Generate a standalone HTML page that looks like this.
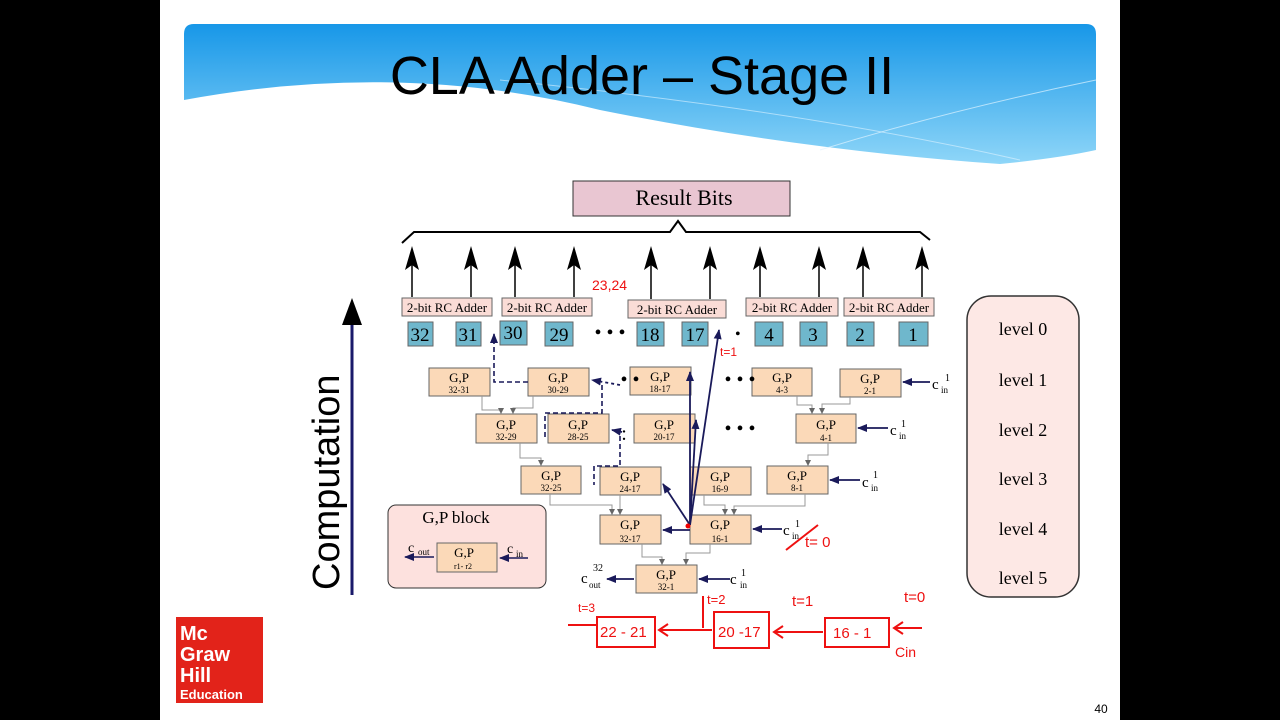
<!DOCTYPE html>
<html><head><meta charset="utf-8"><style>
body{margin:0;background:#000;width:1280px;height:720px;overflow:hidden}
svg{display:block}
text{font-family:"Liberation Serif",serif}
text.s{font-family:"Liberation Sans",sans-serif}
</style></head><body>
<svg width="1280" height="720" viewBox="0 0 1280 720" xmlns="http://www.w3.org/2000/svg">
<defs>
<linearGradient id="bg" x1="0" y1="0" x2="0" y2="1"><stop offset="0" stop-color="#1797e8"/><stop offset="1" stop-color="#8fd6f8"/></linearGradient>
<marker id="ab" markerWidth="10" markerHeight="8" refX="9" refY="4" orient="auto" markerUnits="userSpaceOnUse"><path d="M0,0 L10,4 L0,8 Z" fill="#1a1a5a"/></marker>
<marker id="ag" markerWidth="6" markerHeight="6" refX="5" refY="3" orient="auto" markerUnits="userSpaceOnUse"><path d="M0,0 L6,3 L0,6 Z" fill="#666"/></marker>
</defs>
<rect x="160" y="0" width="960" height="720" fill="#fff"/>
<path d="M194,24 H1086 Q1096,24 1096,34 V150 Q1060,158 1000,164 Q800,150 600,110 Q400,60 184,100 V34 Q184,24 194,24 Z" fill="url(#bg)"/>
<path d="M820,150 Q950,110 1096,80" stroke="#dff4ff" fill="none" opacity=".7"/>
<path d="M500,80 Q800,110 1020,160" stroke="#dff4ff" fill="none" opacity=".6"/>
<text class="s" x="642" y="94" font-size="54" text-anchor="middle">CLA Adder – Stage II</text>

<rect x="573" y="181" width="217" height="35" fill="#e9c6d2" stroke="#333"/>
<text x="684" y="205" font-size="22" text-anchor="middle">Result Bits</text>
<path d="M402,243 L414,232 H670 L678,221 L686,232 H920 L930,240" stroke="#000" stroke-width="2" fill="none"/>
<g stroke="#000" stroke-width="1.5">
<line x1="412" y1="297" x2="412" y2="260"/><line x1="471" y1="297" x2="471" y2="260"/><line x1="515" y1="297" x2="515" y2="260"/><line x1="574" y1="297" x2="574" y2="260"/><line x1="651" y1="299" x2="651" y2="260"/><line x1="710" y1="299" x2="710" y2="260"/><line x1="760" y1="297" x2="760" y2="260"/><line x1="819" y1="297" x2="819" y2="260"/><line x1="863" y1="297" x2="863" y2="260"/><line x1="922" y1="297" x2="922" y2="260"/>
</g>
<g fill="#000">
<path d="M405,270 L412,246 L419,270 L412,265 Z"/><path d="M464,270 L471,246 L478,270 L471,265 Z"/><path d="M508,270 L515,246 L522,270 L515,265 Z"/><path d="M567,270 L574,246 L581,270 L574,265 Z"/><path d="M644,270 L651,246 L658,270 L651,265 Z"/><path d="M703,270 L710,246 L717,270 L710,265 Z"/><path d="M753,270 L760,246 L767,270 L760,265 Z"/><path d="M812,270 L819,246 L826,270 L819,265 Z"/><path d="M856,270 L863,246 L870,270 L863,265 Z"/><path d="M915,270 L922,246 L929,270 L922,265 Z"/>
</g>
<g fill="#fadcd6" stroke="#666">
<rect x="402" y="298" width="90" height="18"/><rect x="502" y="298" width="90" height="18"/>
<rect x="628" y="300" width="98" height="18"/><rect x="746" y="298" width="92" height="18"/><rect x="844" y="298" width="90" height="18"/>
</g>
<g font-size="13" text-anchor="middle">
<text x="447" y="312">2-bit RC Adder</text><text x="547" y="312">2-bit RC Adder</text>
<text x="677" y="314">2-bit RC Adder</text><text x="792" y="312">2-bit RC Adder</text><text x="889" y="312">2-bit RC Adder</text>
</g>
<g fill="#6fb7cc" stroke="#666">
<rect x="408" y="322" width="25" height="24"/><rect x="456" y="322" width="25" height="24"/><rect x="500" y="321" width="27" height="24"/><rect x="545" y="322" width="28" height="24"/>
<rect x="637" y="322" width="27" height="24"/><rect x="682" y="322" width="26" height="24"/><rect x="755" y="322" width="28" height="24"/><rect x="800" y="322" width="27" height="24"/><rect x="847" y="322" width="27" height="24"/><rect x="899" y="322" width="29" height="24"/>
</g>
<g font-size="19" text-anchor="middle">
<text x="420" y="341">32</text><text x="468" y="341">31</text><text x="513" y="339">30</text><text x="559" y="341">29</text>
<text x="650" y="341">18</text><text x="695" y="341">17</text><text x="769" y="341">4</text><text x="813" y="341">3</text><text x="860" y="341">2</text><text x="913" y="341">1</text>
</g>
<text x="610" y="339" font-size="20" text-anchor="middle">• • •</text>
<text x="735" y="339" font-size="16">•</text>

<g fill="#fbd9b8" stroke="#666">
<rect x="429" y="368" width="61" height="28"/><rect x="528" y="368" width="61" height="28"/><rect x="630" y="367" width="61" height="28"/><rect x="752" y="368" width="60" height="28"/><rect x="840" y="369" width="61" height="28"/>
<rect x="476" y="414" width="61" height="29"/><rect x="548" y="414" width="61" height="29"/><rect x="634" y="414" width="61" height="29"/><rect x="796" y="414" width="60" height="29"/>
<rect x="521" y="466" width="60" height="28"/><rect x="600" y="467" width="61" height="28"/><rect x="690" y="467" width="61" height="28"/><rect x="767" y="466" width="61" height="28"/>
<rect x="600" y="515" width="61" height="29"/><rect x="690" y="515" width="61" height="29"/>
<rect x="636" y="565" width="61" height="28"/>
</g>
<g text-anchor="middle">
<g font-size="13">
<text x="459" y="382">G,P</text><text x="558" y="382">G,P</text><text x="660" y="381">G,P</text><text x="782" y="382">G,P</text><text x="870" y="383">G,P</text>
<text x="506" y="429">G,P</text><text x="578" y="429">G,P</text><text x="664" y="429">G,P</text><text x="826" y="429">G,P</text>
<text x="551" y="480">G,P</text><text x="630" y="481">G,P</text><text x="720" y="481">G,P</text><text x="797" y="480">G,P</text>
<text x="630" y="529">G,P</text><text x="720" y="529">G,P</text><text x="666" y="579">G,P</text>
</g>
<g font-size="9">
<text x="459" y="393">32-31</text><text x="558" y="393">30-29</text><text x="660" y="392">18-17</text><text x="782" y="393">4-3</text><text x="870" y="394">2-1</text>
<text x="506" y="440">32-29</text><text x="578" y="440">28-25</text><text x="664" y="440">20-17</text><text x="826" y="441">4-1</text>
<text x="551" y="491">32-25</text><text x="630" y="492">24-17</text><text x="720" y="492">16-9</text><text x="797" y="491">8-1</text>
<text x="630" y="542">32-17</text><text x="720" y="542">16-1</text><text x="666" y="590">32-1</text>
</g>
</g>
<g stroke="#999" fill="none" marker-end="url(#ag)">
<path d="M482,396 V410 H501 V413"/><path d="M533,396 V408 H513 V413"/>
<path d="M520,443 V458 H541 V465"/>
<path d="M620,495 V514"/><path d="M550,494 V505 H612 V514"/>
<path d="M850,396 V404 H822 V413"/><path d="M797,396 V405 H812 V413"/>
<path d="M828,443 V455 H808 V465"/>
<path d="M704,495 V505 H725 V514"/><path d="M805,494 V506 H734 V514"/>
<path d="M642,544 V557 H662 V564"/><path d="M710,544 V553 H686 V564"/>
</g>
<g stroke="#1a1a5a" stroke-width="1.6" stroke-dasharray="5,3" fill="none">
<path d="M528,382 H494 V334" marker-end="url(#ab)"/>
<path d="M602,385 V413 H545 V440"/><path d="M620,436 V466 H594 V485"/>
</g>
<g stroke="#1a1a5a" stroke-width="1.8" fill="none">
<line x1="620" y1="385" x2="592" y2="380" stroke-dasharray="3,3" marker-end="url(#ab)"/>
<line x1="622" y1="432" x2="612" y2="430" marker-end="url(#ab)"/>
<line x1="690" y1="525" x2="690" y2="372" marker-end="url(#ab)"/>
<line x1="690" y1="525" x2="696" y2="420" marker-end="url(#ab)"/>
<line x1="690" y1="525" x2="719" y2="330" marker-end="url(#ab)"/>
<line x1="690" y1="525" x2="663" y2="484" marker-end="url(#ab)"/>
<line x1="690" y1="530" x2="663" y2="530" marker-end="url(#ab)"/>
<line x1="930" y1="382" x2="903" y2="382" marker-end="url(#ab)"/>
<line x1="888" y1="428" x2="858" y2="428" marker-end="url(#ab)"/>
<line x1="860" y1="480" x2="830" y2="480" marker-end="url(#ab)"/>
<line x1="782" y1="529" x2="753" y2="529" marker-end="url(#ab)"/>
<line x1="730" y1="579" x2="699" y2="579" marker-end="url(#ab)"/>
<line x1="634" y1="579" x2="607" y2="579" marker-end="url(#ab)"/>
</g>
<circle cx="688" cy="526" r="2.5" fill="#e00"/>
<g font-size="20" text-anchor="middle"><text x="630" y="386">• •</text><text x="740" y="386">• • •</text><text x="740" y="435">• • •</text><text x="624" y="440">:</text></g>
<g font-size="15"><text x="932" y="389">c</text><text x="890" y="435">c</text><text x="862" y="487">c</text><text x="783" y="535">c</text><text x="730" y="584">c</text><text x="581" y="583">c</text></g>
<g font-size="9"><text x="941" y="393">in</text><text x="899" y="439">in</text><text x="871" y="491">in</text><text x="792" y="539">in</text><text x="740" y="588">in</text><text x="589" y="588">out</text></g>
<g font-size="10"><text x="945" y="381">1</text><text x="901" y="427">1</text><text x="873" y="478">1</text><text x="795" y="527">1</text><text x="741" y="576">1</text><text x="593" y="571">32</text></g>

<rect x="388" y="505" width="158" height="83" rx="8" fill="#fde1de" stroke="#333"/>
<text x="456" y="523" font-size="17" text-anchor="middle">G,P block</text>
<rect x="437" y="543" width="60" height="29" fill="#fbd9b8" stroke="#666"/>
<text x="464" y="557" font-size="13" text-anchor="middle">G,P</text><text x="463" y="569" font-size="8" text-anchor="middle">r1- r2</text>
<text x="408" y="552" font-size="14">c</text><text x="418" y="555" font-size="9">out</text>
<text x="507" y="553" font-size="14">c</text><text x="516" y="557" font-size="9">in</text>
<g stroke="#1a1a5a" stroke-width="1.6"><line x1="434" y1="557" x2="405" y2="557" marker-end="url(#ab)"/><line x1="528" y1="558" x2="500" y2="558" marker-end="url(#ab)"/></g>

<rect x="967" y="296" width="112" height="301" rx="24" fill="#fde8e5" stroke="#333" stroke-width="1.5"/>
<g font-size="18" text-anchor="middle"><text x="1023" y="335">level 0</text><text x="1023" y="386">level 1</text><text x="1023" y="436">level 2</text><text x="1023" y="485">level 3</text><text x="1023" y="535">level 4</text><text x="1023" y="584">level 5</text></g>

<line x1="352" y1="595" x2="352" y2="320" stroke="#1a1a6a" stroke-width="3"/>
<path d="M342,325 L352,298 L362,325 Z" fill="#000"/>
<text class="s" transform="translate(339,590) rotate(-90)" font-size="38">Computation</text>

<rect x="176" y="617" width="87" height="86" fill="#e2231a"/>
<g fill="#fff" font-weight="bold"><text class="s" x="180" y="640" font-size="20">Mc</text><text class="s" x="180" y="661" font-size="20">Graw</text><text class="s" x="180" y="682" font-size="20">Hill</text><text class="s" x="180" y="699" font-size="13">Education</text></g>
<text class="s" x="1101" y="713" font-size="12" text-anchor="middle">40</text>

<g stroke="#e11" stroke-width="2" fill="none">
<rect x="597" y="617" width="58" height="30"/><rect x="714" y="612" width="55" height="36"/><rect x="825" y="618" width="64" height="29"/>
<path d="M712,630 H660 M668,624 L659,630 L668,636"/><path d="M823,632 H775 M783,626 L774,632 L783,638"/>
<path d="M922,628 H895 M903,622 L894,628 L903,634"/><path d="M596,625 H568"/><path d="M703,596 V628"/>
<path d="M786,550 L818,525"/>
</g>
<g fill="#e11" font-size="15">
<text class="s" x="600" y="637">22 - 21</text><text class="s" x="718" y="637">20 -17</text><text class="s" x="833" y="638">16 - 1</text>
<text class="s" x="578" y="612" font-size="12">t=3</text><text class="s" x="707" y="604" font-size="13">t=2</text><text class="s" x="792" y="606">t=1</text><text class="s" x="904" y="602">t=0</text><text class="s" x="895" y="657" font-size="14">Cin</text>
<text class="s" x="805" y="547">t= 0</text><text class="s" x="592" y="290" font-size="14">23,24</text><text class="s" x="720" y="356" font-size="12">t=1</text>
</g>
</svg>
</body></html>
